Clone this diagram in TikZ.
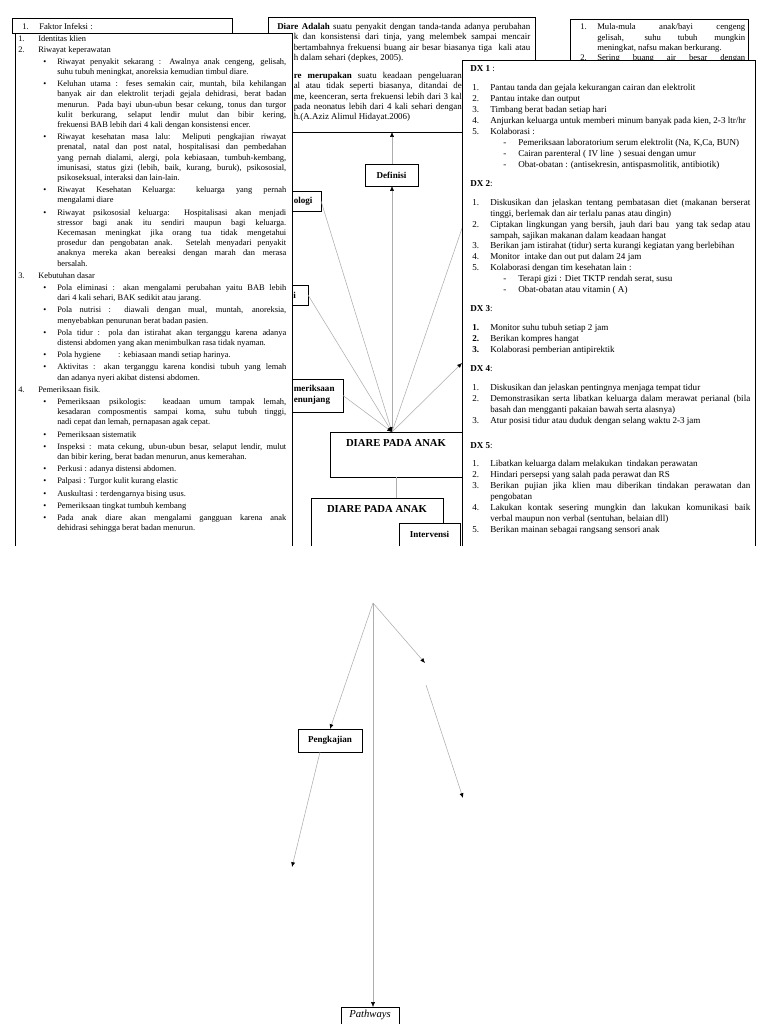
\documentclass[tikz,border=0pt]{standalone}
\usepackage{fontspec}
\setmainfont{Liberation Serif}
\usetikzlibrary{arrows.meta}
\newdimen\px \px=0.75pt
\newcommand\LJ[4]{\hbox to\hsize{\strut\rlap{\hskip#1\px\relax#2}\hskip#3\px\relax\makebox[\dimexpr\hsize-#3\px\relax][s]{#4}}}
\newcommand\LR[4]{\hbox to\hsize{\strut\rlap{\hskip#1\px\relax#2}\hskip#3\px\relax#4\hfil}}
\newcommand\GAP[1]{\vskip#1\px\relax}
\newcommand\BOX[6]{\node[#1,anchor=north west,minimum width={(#5-#3)*0.75pt},minimum height={(#6-#4)*0.75pt}] (#2) at (#3,#4) {};}
\newcommand\bul{\textbullet}
\newcommand\Bj[1]{\LJ{25}{\bul}{39}{#1}}
\newcommand\Br[1]{\LR{25}{\bul}{39}{#1}}
\newcommand\Cj[1]{\LJ{0}{}{39}{#1}}
\newcommand\Cr[1]{\LR{0}{}{39}{#1}}
\newcommand\Nr[2]{\LR{0}{#1}{20}{#2}}
\newcommand\pg{\GAP{2}}
\newcommand\Dj[2]{\LJ{2}{#1}{20}{#2}}
\newcommand\Dr[2]{\LR{2}{#1}{20}{#2}}
\newcommand\Ds[1]{\LR{33}{-}{48}{#1}}
\newcommand\Dh[1]{\LR{0}{}{0}{#1}}
\tikzset{
  conn/.style={draw=black!32, line width=0.4pt, -{Latex[length=3.6pt,width=3pt,color=black]}},
  plainln/.style={draw=black!32, line width=0.4pt},
  bigbox/.style={draw=black, line width=0.6pt, fill=white, inner sep=0pt, outer sep=0pt},
  sbox/.style={draw=black, line width=0.55pt, fill=white, inner sep=0pt, outer sep=0pt},
  lbl/.style={inner sep=0pt, font=\fontsize{6.8}{8}\selectfont\bfseries},
  big/.style={inner sep=0pt, font=\fontsize{8}{9}\selectfont\bfseries},
  txt/.style={anchor=north west, inner sep=0pt},
}
\begin{document}
\begin{tikzpicture}[x=0.75pt,y=-0.75pt]
\useasboundingbox (0,0) rectangle (768,1024);
\fill[white] (0,0) rectangle (768,1024);
\clip (0,0) rectangle (768,1024);
\begin{scope}
\clip (0,0) rectangle (768,545);
% middle definition box (only the parts not hidden by the boxes in front)
\BOX{bigbox}{midbox}{268}{17}{535}{132}
\node[txt] (midtext1) at (277,22) {\vtop{\hsize=253\px\relax\fontsize{6.7}{7.7}\selectfont
\LJ{0}{}{0}{\textbf{Diare Adalah} suatu penyakit dengan tanda-tanda adanya perubahan}}};
\node[txt] (midtext2) at (293.5,32.3) {\vtop{\hsize=236.5\px\relax\fontsize{6.7}{7.7}\selectfont
\LJ{0}{}{0}{k dan konsistensi dari tinja, yang melembek sampai mencair}
\LJ{0}{}{0}{bertambahnya frekuensi buang air besar biasanya tiga\ \ kali atau}
\LR{0}{}{0}{h dalam sehari (depkes, 2005).}}};
\node[txt] (midtext3) at (293.5,71.1) {\vtop{\hsize=168\px\relax\fontsize{6.7}{7.7}\selectfont
\LJ{0}{}{0}{\textbf{re merupakan} suatu keadaan pengeluaran}
\LJ{0}{}{0}{al atau tidak seperti biasanya, ditandai de}
\LJ{0}{}{0}{me, keenceran, serta frekuensi lebih dari 3 kal}
\LJ{0}{}{0}{pada neonatus lebih dari 4 kali sehari dengan}
\LR{0}{}{0}{h.(A.Aziz Alimul Hidayat.2006)}}};
% right top box
\BOX{bigbox}{rightbox}{570}{19}{748}{75}
\node[txt] (righttext) at (580,22.5) {\vtop{\hsize=165\px\relax\fontsize{6.5}{7.7}\selectfont
\LJ{0}{1.}{17}{Mula-mula anak/bayi cengeng}
\LJ{0}{}{17}{gelisah, suhu tubuh mungkin}
\LR{0}{}{17}{meningkat, nafsu makan berkurang.}
\LJ{0}{2.}{17}{Sering buang air besar dengan}}};
% small concept boxes (left parts hidden behind the left box)
\BOX{sbox}{definisi}{365}{164}{418}{186}
\node[lbl] (deflbl) at (definisi) {Definisi};
\BOX{sbox}{etio}{269}{191}{321}{211}
\node[lbl,anchor=west] (etiolbl) at (293.5,201) {ologi};
\BOX{sbox}{komp}{235}{285}{308}{305}
\node[lbl,anchor=west] (komplbl) at (293,295) {i};
\BOX{sbox}{penunjang}{250}{379}{343}{412}
\node[lbl,anchor=west,align=left] (penlbl) at (293.5,395) {meriksaan\\enunjang};
% connectors
\coordinate (hub) at (392,432);
\coordinate (dxin) at (462,363);
\coordinate (hidden) at (480,176);
\draw[conn] (hub) -- (hub |- definisi.south);
\draw[conn] (hub |- definisi.north) -- (hub |- midbox.south);
\draw[conn] (etio.east) -- (hub);
\draw[conn] (komp.east) -- (hub);
\draw[conn] (penunjang.east) -- (hub);
\draw[conn] (hub) -- (dxin);
\draw[plainln] (hub) -- (hidden);
% DX box
\BOX{bigbox}{dxbox}{462}{60}{755}{570}
\node[txt] (dxtext) at (470,64) {\vtop{\hsize=280\px\relax\fontsize{6.8}{8.2}\selectfont
\Dh{\textbf{DX 1} :}\GAP{8}
\Dr{1.}{Pantau tanda dan gejala kekurangan cairan dan elektrolit}
\Dr{2.}{Pantau intake dan output}
\Dr{3.}{Timbang berat badan setiap hari}
\Dr{4.}{Anjurkan keluarga untuk memberi minum banyak pada kien, 2-3 ltr/hr}
\Dr{5.}{Kolaborasi :}
\Ds{Pemeriksaan laboratorium serum elektrolit (Na, K,Ca, BUN)}
\Ds{Cairan parenteral ( IV line\ \ ) sesuai dengan umur}
\Ds{Obat-obatan : (antisekresin, antispasmolitik, antibiotik)}\GAP{8}
\Dh{\textbf{DX 2}:}\GAP{8}
\Dj{1.}{Diskusikan dan jelaskan tentang pembatasan diet (makanan berserat}
\Dr{}{tinggi, berlemak dan air terlalu panas atau dingin)}
\Dj{2.}{Ciptakan lingkungan yang bersih, jauh dari bau\ \ yang tak sedap atau}
\Dr{}{sampah, sajikan makanan dalam keadaan hangat}
\Dr{3.}{Berikan jam istirahat (tidur) serta kurangi kegiatan yang berlebihan}
\Dr{4.}{Monitor\ \ intake dan out put dalam 24 jam}
\Dr{5.}{Kolaborasi dengan tim kesehatan lain :}
\Ds{Terapi gizi : Diet TKTP rendah serat, susu}
\Ds{Obat-obatan atau vitamin ( A)}\GAP{8}
\Dh{\textbf{DX 3}:}\GAP{8}
\Dr{\textbf{1.}}{Monitor suhu tubuh setiap 2 jam}
\Dr{\textbf{2.}}{Berikan kompres hangat}
\Dr{\textbf{3.}}{Kolaborasi pemberian antipirektik}\GAP{8}
\Dh{\textbf{DX 4}:}\GAP{8}
\Dr{1.}{Diskusikan dan jelaskan pentingnya menjaga tempat tidur}
\Dj{2.}{Demonstrasikan serta libatkan keluarga dalam merawat perianal (bila}
\Dr{}{basah dan mengganti pakaian bawah serta alasnya)}
\Dr{3.}{Atur posisi tidur atau duduk dengan selang waktu 2-3 jam}\GAP{14}
\Dh{\textbf{DX 5}:}\GAP{8}
\Dr{1.}{Libatkan keluarga dalam melakukan\ \ tindakan perawatan}
\Dr{2.}{Hindari persepsi yang salah pada perawat dan RS}
\Dj{3.}{Berikan pujian jika klien mau diberikan tindakan perawatan dan}
\Dr{}{pengobatan}
\Dj{4.}{Lakukan kontak sesering mungkin dan lakukan komunikasi baik}
\Dr{}{verbal maupun non verbal (sentuhan, belaian dll)}
\Dr{5.}{Berikan mainan sebagai rangsang sensori anak}}};
% left box
\BOX{bigbox}{leftbox}{15}{33}{292}{570}
\node[txt] (lefttext) at (18,34.4) {\vtop{\hsize=268\px\relax\fontsize{6.3}{7.65}\selectfont
\Nr{1.}{Identitas klien}
\Nr{2.}{Riwayat keperawatan}\pg
\Bj{Riwayat penyakit sekarang : Awalnya anak cengeng, gelisah,}
\Cr{suhu tubuh meningkat, anoreksia kemudian timbul diare.}\pg
\Bj{Keluhan utama : feses semakin cair, muntah, bila kehilangan}
\Cj{banyak air dan elektrolit terjadi gejala dehidrasi, berat badan}
\Cj{menurun. Pada bayi ubun-ubun besar cekung, tonus dan turgor}
\Cj{kulit berkurang, selaput lendir mulut dan bibir kering,}
\Cr{frekuensi BAB lebih dari 4 kali dengan konsistensi encer.}\pg
\Bj{Riwayat kesehatan masa lalu: Meliputi pengkajian riwayat}
\Cj{prenatal, natal dan post natal, hospitalisasi dan pembedahan}
\Cj{yang pernah dialami, alergi, pola kebiasaan, tumbuh-kembang,}
\Cj{imunisasi, status gizi (lebih, baik, kurang, buruk), psikososial,}
\Cr{psikoseksual, interaksi dan lain-lain.}\pg
\Bj{Riwayat Kesehatan Keluarga: keluarga yang pernah}
\Cr{mengalami diare}\pg
\Bj{Riwayat psikososial keluarga: Hospitalisasi akan menjadi}
\Cj{stressor bagi anak itu sendiri maupun bagi keluarga.}
\Cj{Kecemasan meningkat jika orang tua tidak mengetahui}
\Cj{prosedur dan pengobatan anak. Setelah menyadari penyakit}
\Cj{anaknya mereka akan bereaksi dengan marah dan merasa}
\Cr{bersalah.}\pg
\Nr{3.}{Kebutuhan dasar}\pg
\Bj{Pola eliminasi : akan mengalami perubahan yaitu BAB lebih}
\Cr{dari 4 kali sehari, BAK sedikit atau jarang.}\pg
\Bj{Pola nutrisi : diawali dengan mual, muntah, anoreksia,}
\Cr{menyebabkan penurunan berat badan pasien.}\pg
\Bj{Pola tidur : pola dan istirahat akan terganggu karena adanya}
\Cr{distensi abdomen yang akan menimbulkan rasa tidak nyaman.}\pg
\Br{Pola hygiene\hspace{13pt}: kebiasaan mandi setiap harinya.}\pg
\Bj{Aktivitas : akan terganggu karena kondisi tubuh yang lemah}
\Cr{dan adanya nyeri akibat distensi abdomen.}\pg
\Nr{4.}{Pemeriksaan fisik.}\pg
\Bj{Pemeriksaan psikologis: keadaan umum tampak lemah,}
\Cj{kesadaran composmentis sampai koma, suhu tubuh tinggi,}
\Cr{nadi cepat dan lemah, pernapasan agak cepat.}\pg
\Br{Pemeriksaan sistematik}\pg
\Bj{Inspeksi : mata cekung, ubun-ubun besar, selaput lendir, mulut}
\Cr{dan bibir kering, berat badan menurun, anus kemerahan.}\pg
\Br{Perkusi : adanya distensi abdomen.}\pg
\Br{Palpasi : Turgor kulit kurang elastic}\pg
\Br{Auskultasi : terdengarnya bising usus.}\pg
\Br{Pemeriksaan tingkat tumbuh kembang}\pg
\Bj{Pada anak diare akan mengalami gangguan karena anak}
\Cr{dehidrasi sehingga berat badan menurun.}}};
% faktor box
\BOX{bigbox}{faktorbox}{12}{18}{232}{33}
\node[anchor=west,inner sep=0pt] (faktortext) at (22,26.5) {\fontsize{6.5}{7.7}\selectfont\makebox[17\px][l]{1.}Faktor Infeksi :};
% central boxes
\BOX{bigbox}{diare1}{330}{432}{462}{477}
\node[big] (diare1lbl) at (396,443) {DIARE PADA ANAK};
\BOX{bigbox}{diare2}{311}{498}{443}{570}
\node[big] (diare2lbl) at (377,509) {DIARE PADA ANAK};
\draw[plainln] (diare1.south) -- (diare1.south |- diare2.north);
\BOX{bigbox}{intervensi}{399}{523}{460}{570}
\node[lbl] (intlbl) at (429.5,534) {Intervensi};
\end{scope}
% lower detached fragment
\coordinate (apex) at (373,603);
\coordinate (ra) at (425,663);
\coordinate (rb1) at (426,685);
\coordinate (rb2) at (463,798);
\coordinate (lb) at (292,867);
\BOX{sbox}{pengkajian}{298}{729}{362}{752}
\node[lbl] (pklbl) at (pengkajian) {Pengkajian};
\BOX{sbox}{pathways}{341}{1007}{399}{1040}
\node[inner sep=0pt,font=\fontsize{8}{9}\selectfont\itshape] (pwlbl) at (370,1015) {Pathways};
\draw[conn] (apex) -- (pengkajian.north);
\draw[conn] (apex) -- (ra);
\draw[conn] (apex) -- (apex |- pathways.north);
\draw[conn] (pengkajian.south) ++(-10,0) -- (lb);
\draw[conn] (rb1) -- (rb2);
\end{tikzpicture}
\end{document}
